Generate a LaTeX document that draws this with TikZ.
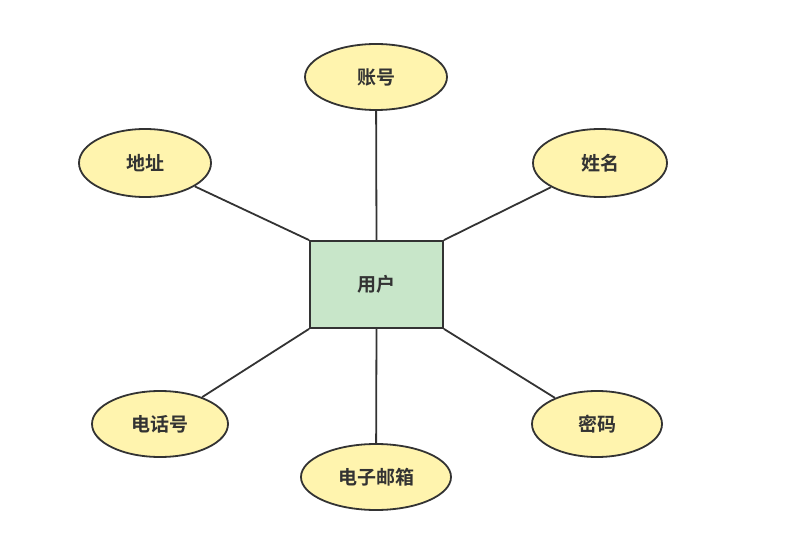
\documentclass[tikz,border=0pt]{standalone}
\usepackage{fontspec}
\newfontfamily\cjk{Noto Sans CJK SC}[BoldFont={Noto Sans CJK SC Bold}]
\usetikzlibrary{shapes.geometric}
\definecolor{attr}{HTML}{FFF4AE}
\definecolor{ent}{HTML}{C8E6C9}
\definecolor{edge}{HTML}{333333}
\begin{document}
\begin{tikzpicture}[x=1pt,y=-1pt,
  attrnode/.style={ellipse,draw=edge,line width=1.8pt,fill=attr,inner sep=0pt,font=\cjk\bfseries\fontsize{19}{22}\selectfont,text=edge},
  entnode/.style={rectangle,draw=edge,line width=1.8pt,fill=ent,minimum width=133pt,minimum height=87pt,font=\cjk\bfseries\fontsize{19}{22}\selectfont,text=edge},
  link/.style={draw=edge,line width=1.8pt}]
\useasboundingbox (0,0) rectangle (787,540);
\node[entnode] (u) at (376.5,284.5) {用户};
\node[attrnode,minimum width=142pt,minimum height=66pt] (zh) at (376,77) {账号};
\node[attrnode,minimum width=132pt,minimum height=68pt] (dz) at (145,163) {地址};
\node[attrnode,minimum width=134pt,minimum height=68pt] (xm) at (600,163) {姓名};
\node[attrnode,minimum width=136pt,minimum height=66pt] (dh) at (160,424) {电话号};
\node[attrnode,minimum width=130pt,minimum height=66pt] (mm) at (597,424) {密码};
\node[attrnode,minimum width=150pt,minimum height=66pt] (yx) at (376,477) {电子邮箱};
\draw[link] (u.north) -- (zh);
\draw[link] (u.south) -- (yx);
\draw[link] (u.north west) -- (dz);
\draw[link] (u.north east) -- (xm);
\draw[link] (u.south west) -- (dh);
\draw[link] (u.south east) -- (mm);
\end{tikzpicture}
\end{document}
